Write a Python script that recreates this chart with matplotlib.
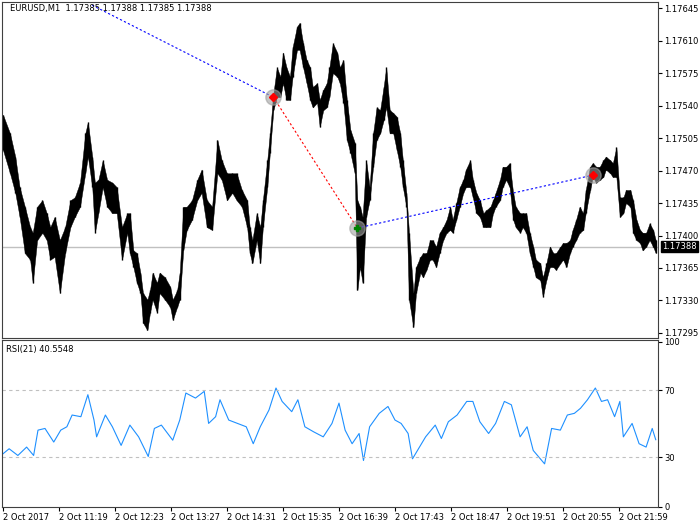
import matplotlib
matplotlib.use("Agg")
import matplotlib.pyplot as plt
import numpy as np

# minutes since 10:15 and price high/low bands
minutes = [0,8,14,19,25,31,34,39,45,50,54,59,65,71,77,82,88,94,97,102,105,109,114,119,125,130,136,142,145,149,153,157,160,165,168,171,176,179,185,191,194,199,202,206,210,216,222,227,233,239,245,250,256,262,267,273,279,282,285,290,294,297,302,305,309,313,317,320,324,328,331,336,339,343,347,351,354,359,362,366,370,373,377,382,385,389,393,397,402,405,408,411,415,419,423,427,431,435,438,442,446,450,454,457,461,464,469,472,477,480,484,488,491,495,499,503,507,511,514,518,522,526,529,534,537,541,545,549,552,557,560,563,568,571,575,579,583,586,591,594,598,602,606,609,614,617,621,625,629,632,637,640,644,648,651,655,659,663,666,671,674,678,682,686,689,694,697,701,705,709,712,717,720,724,728,731,735,739,743,746]
highs = [1.17530,1.17510,1.17485,1.17452,1.17431,1.17409,1.17403,1.17431,1.17438,1.17424,1.17409,1.17420,1.17395,1.17409,1.17438,1.17441,1.17457,1.17510,1.17522,1.17485,1.17457,1.17460,1.17481,1.17460,1.17457,1.17452,1.17409,1.17424,1.17424,1.17384,1.17381,1.17360,1.17338,1.17331,1.17341,1.17360,1.17349,1.17360,1.17355,1.17345,1.17331,1.17341,1.17360,1.17431,1.17431,1.17438,1.17460,1.17471,1.17438,1.17431,1.17503,1.17481,1.17467,1.17467,1.17467,1.17449,1.17438,1.17409,1.17395,1.17424,1.17409,1.17438,1.17481,1.17510,1.17553,1.17581,1.17571,1.17597,1.17581,1.17571,1.17603,1.17625,1.17629,1.17607,1.17589,1.17581,1.17560,1.17564,1.17546,1.17557,1.17564,1.17581,1.17607,1.17597,1.17581,1.17589,1.17546,1.17514,1.17500,1.17438,1.17431,1.17420,1.17481,1.17452,1.17510,1.17538,1.17535,1.17560,1.17581,1.17535,1.17532,1.17528,1.17510,1.17481,1.17446,1.17403,1.17338,1.17366,1.17377,1.17381,1.17381,1.17395,1.17395,1.17388,1.17403,1.17409,1.17417,1.17431,1.17417,1.17435,1.17452,1.17460,1.17471,1.17481,1.17460,1.17446,1.17438,1.17424,1.17427,1.17431,1.17438,1.17446,1.17460,1.17474,1.17474,1.17478,1.17446,1.17431,1.17424,1.17424,1.17424,1.17403,1.17388,1.17374,1.17370,1.17355,1.17370,1.17388,1.17381,1.17381,1.17388,1.17392,1.17392,1.17395,1.17406,1.17417,1.17431,1.17424,1.17449,1.17474,1.17478,1.17474,1.17474,1.17481,1.17485,1.17481,1.17478,1.17495,1.17441,1.17441,1.17449,1.17449,1.17438,1.17417,1.17406,1.17403,1.17403,1.17413,1.17406,1.17395]
lows = [1.17492,1.17467,1.17446,1.17420,1.17381,1.17374,1.17349,1.17395,1.17403,1.17395,1.17374,1.17377,1.17338,1.17381,1.17409,1.17420,1.17431,1.17467,1.17485,1.17452,1.17403,1.17424,1.17452,1.17431,1.17424,1.17424,1.17374,1.17403,1.17381,1.17366,1.17349,1.17338,1.17306,1.17298,1.17317,1.17331,1.17317,1.17338,1.17331,1.17323,1.17309,1.17323,1.17331,1.17384,1.17406,1.17417,1.17438,1.17446,1.17409,1.17406,1.17467,1.17460,1.17438,1.17446,1.17438,1.17431,1.17409,1.17381,1.17370,1.17395,1.17370,1.17409,1.17452,1.17489,1.17535,1.17549,1.17549,1.17564,1.17546,1.17546,1.17571,1.17600,1.17600,1.17581,1.17564,1.17546,1.17538,1.17543,1.17517,1.17535,1.17538,1.17549,1.17575,1.17571,1.17564,1.17543,1.17503,1.17489,1.17467,1.17341,1.17366,1.17349,1.17420,1.17438,1.17474,1.17503,1.17510,1.17524,1.17538,1.17510,1.17510,1.17492,1.17474,1.17452,1.17431,1.17331,1.17301,1.17338,1.17360,1.17355,1.17363,1.17374,1.17374,1.17366,1.17381,1.17395,1.17403,1.17406,1.17403,1.17417,1.17431,1.17446,1.17452,1.17452,1.17441,1.17424,1.17420,1.17409,1.17409,1.17409,1.17424,1.17431,1.17438,1.17452,1.17460,1.17452,1.17417,1.17409,1.17403,1.17409,1.17403,1.17381,1.17366,1.17355,1.17352,1.17334,1.17352,1.17366,1.17366,1.17363,1.17370,1.17374,1.17366,1.17381,1.17388,1.17395,1.17403,1.17406,1.17424,1.17449,1.17463,1.17457,1.17460,1.17463,1.17471,1.17467,1.17463,1.17463,1.17420,1.17424,1.17435,1.17431,1.17403,1.17395,1.17392,1.17384,1.17388,1.17395,1.17388,1.17381]

rsi_min = [0,7,17,27,35,40,48,58,66,73,79,89,97,104,107,117,125,135,145,155,166,173,181,194,202,209,220,230,235,243,248,258,268,278,286,294,304,312,319,330,337,345,355,366,376,384,391,399,407,412,419,430,440,448,455,463,468,476,483,494,501,509,519,530,537,545,555,563,573,581,591,599,606,619,627,637,645,653,660,668,677,684,691,699,705,709,719,727,735,742,746]
rsi_val = [32.2,35.2,31.2,36.2,31.2,46.3,47.3,39.2,46.3,48.3,55.3,54.3,67.4,52.3,42.3,55.3,48.3,37.2,49.3,42.3,30.6,47.3,49.3,40.3,52.3,68.4,65.4,69.4,50.3,54.3,64.4,52.3,50.3,48.3,38.2,48.3,58.3,71.4,63.4,57.3,64.4,48.3,45.3,42.3,50.3,62.4,46.3,38.2,44.3,28.2,48.3,56.3,60.4,52.3,50.3,44.3,29.2,36.2,42.3,49.3,41.3,51.3,55.3,63.4,63.4,51.3,44.3,50.3,63.4,61.4,42.3,48.3,34.2,26.2,47.3,46.3,55.3,56.3,59.3,64.4,71.4,63.4,64.4,54.3,63.4,42.3,50.3,38.2,36.2,47.3,40.6]

trade_min = [102, 309, 405, 674]
trade_price = [1.17648, 1.17549, 1.17408, 1.17465]
last_price = 1.17388
price_ticks = [1.17645,1.17610,1.17575,1.17540,1.17505,1.17470,1.17435,1.17400,1.17365,1.17330,1.17295]
time_labels = ["2 Oct 2017","2 Oct 11:19","2 Oct 12:23","2 Oct 13:27","2 Oct 14:31","2 Oct 15:35",
               "2 Oct 16:39","2 Oct 17:43","2 Oct 18:47","2 Oct 19:51","2 Oct 20:55","2 Oct 21:59"]
time_ticks = [0,64,128,192,256,320,384,448,512,576,640,704]

plt.rcParams['font.family'] = ['DejaVu Sans']
fig = plt.figure(figsize=(7, 5.25), dpi=100)
W, H = 700, 525
ax1 = fig.add_axes([2/W, (H-338)/H, 656/W, 336/H])
ax2 = fig.add_axes([2/W, (H-507)/H, 656/W, 167/H])
xl = (-1.14, 748.6)

ax1.fill_between(minutes, lows, highs, color='black', lw=0.3)
for m, h, l in zip(minutes, highs, lows):
    ax1.vlines(m, l, h, color='black', lw=1.0)
ax1.axhline(last_price, color='#c0c0c0', lw=1, zorder=0)
ax1.plot(trade_min[:2], trade_price[:2], ls=(0, (2, 2)), color='blue', lw=0.8)
ax1.plot(trade_min[1:3], trade_price[1:3], ls=(0, (2, 2)), color='red', lw=0.8)
ax1.plot(trade_min[2:4], trade_price[2:4], ls=(0, (2, 2)), color='blue', lw=0.8)
for i in (1, 2, 3):
    ax1.plot(trade_min[i], trade_price[i], 'o', ms=11, color='#a0a0a0', alpha=0.6)
    ax1.plot(trade_min[i], trade_price[i], 'D' if i != 2 else 'P', ms=4,
             color='red' if i != 2 else 'green')
ax1.set_xlim(*xl)
ax1.set_ylim(1.172896, 1.176515)
ax1.yaxis.tick_right()
ax1.set_yticks(price_ticks)
ax1.set_yticklabels([f"{v:.5f}" for v in price_ticks])
ax1.set_xticks([])
ax1.text(0.012, 0.995, "EURUSD,M1  1.17385 1.17388 1.17385 1.17388", transform=ax1.transAxes,
         fontsize=6, va='top', ha='left')
ax1.text(1.006, (last_price-1.172896)/(1.176515-1.172896), f"{last_price:.5f}", transform=ax1.transAxes,
         fontsize=6, va='center', ha='left', color='white',
         bbox=dict(boxstyle='square,pad=0.15', fc='black', ec='black'))

ax2.plot(rsi_min, rsi_val, color='#1e90ff', lw=0.8)
for lv in (30, 70):
    ax2.axhline(lv, color='#c0c0c0', ls=(0, (3, 3)), lw=0.8)
ax2.set_xlim(*xl)
ax2.set_ylim(0.5, 100)
ax2.yaxis.tick_right()
ax2.set_yticks([0.5, 30, 70, 99])
ax2.set_yticklabels(["0", "30", "70", "100"])
ax2.set_xticks(time_ticks)
ax2.set_xticklabels(time_labels, ha='left')
ax2.text(0.006, 0.97, "RSI(21) 40.5548", transform=ax2.transAxes, fontsize=6, va='top')

for ax in (ax1, ax2):
    ax.tick_params(labelsize=6, length=3, width=0.8, pad=1.5)
    for s in ax.spines.values():
        s.set_linewidth(0.8)
        s.set_color('#404040')

fig.savefig("out.png", dpi=100)
